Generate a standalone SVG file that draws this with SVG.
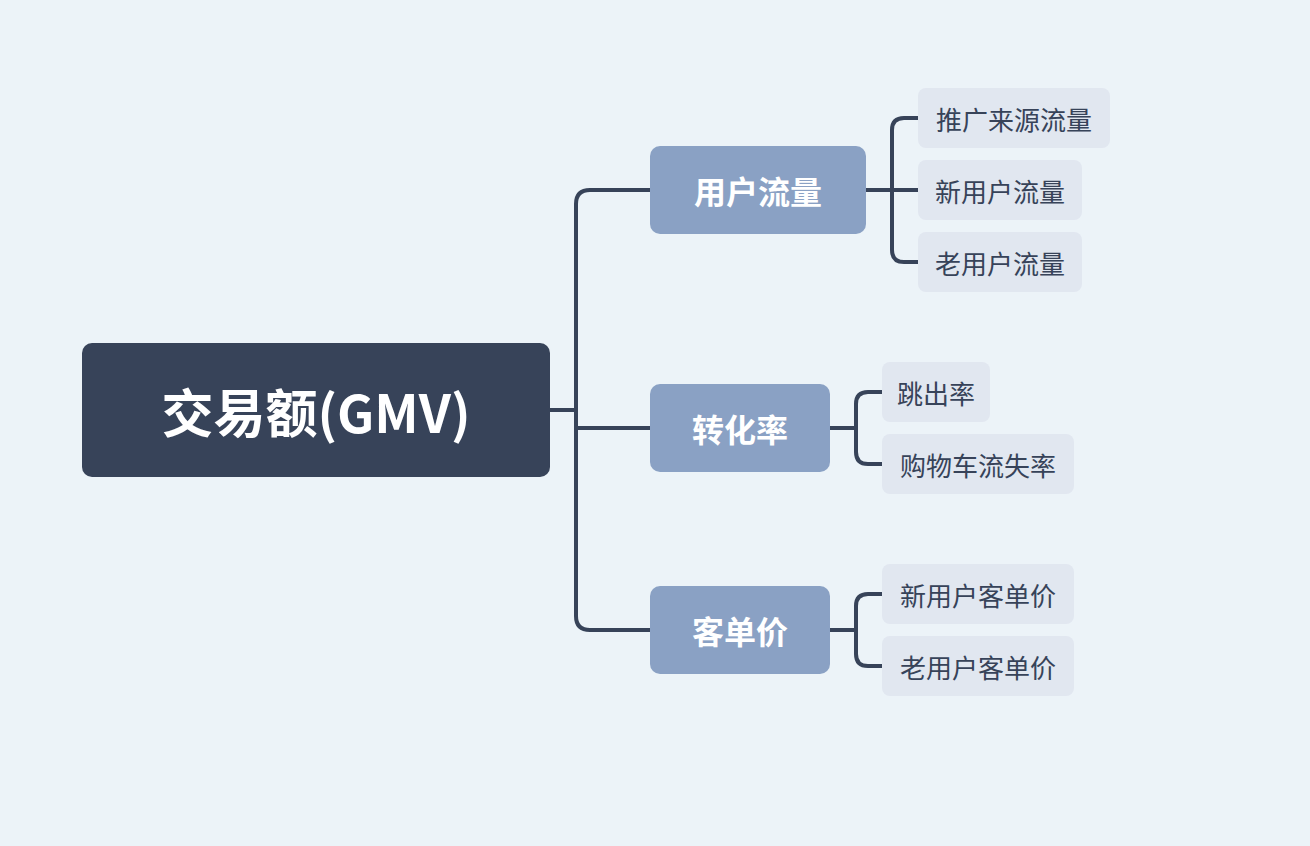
<svg xmlns="http://www.w3.org/2000/svg" width="1310" height="846" viewBox="0 0 1310 846">
<style>
text{font-family:"Noto Sans CJK SC","Open Sans",sans-serif;text-anchor:middle;dominant-baseline:central}
.r{fill:#374359}.rt{fill:#fff;font-size:52px;font-weight:bold}
.m{fill:#8aa1c4}.mt{fill:#fff;font-size:32px;font-weight:bold}
.l{fill:#e1e7f0}.lt{fill:#374359;font-size:26px}
.c{fill:none;stroke:#374359;stroke-width:4}
</style>
<rect width="1310" height="846" fill="#ecf3f8"/>
<g id="connectors">
<path class="c" d="M550 410H576M650 190H590Q576 190 576 204V616Q576 630 590 630H650M576 428H650"/>
<path class="c" d="M866 190H892M918 118H904Q892 118 892 130V250Q892 262 904 262H918M892 190H918"/>
<path class="c" d="M830 428H856M882 392H868Q856 392 856 404V452Q856 464 868 464H882"/>
<path class="c" d="M830 630H856M882 594H868Q856 594 856 606V654Q856 666 868 666H882"/>
</g>
<g id="root"><rect class="r" x="82" y="343" width="468" height="134" rx="10"/><text class="rt" x="316" y="410">交易额(GMV)</text></g>
<g id="n1"><rect class="m" x="650" y="146" width="216" height="88" rx="10"/><text class="mt" x="758" y="190">用户流量</text></g>
<g id="n2"><rect class="m" x="650" y="384" width="180" height="88" rx="10"/><text class="mt" x="740" y="428">转化率</text></g>
<g id="n3"><rect class="m" x="650" y="586" width="180" height="88" rx="10"/><text class="mt" x="740" y="630">客单价</text></g>
<g id="l1"><rect class="l" x="918" y="88" width="192" height="60" rx="8"/><text class="lt" x="1014" y="118">推广来源流量</text></g>
<g id="l2"><rect class="l" x="918" y="160" width="164" height="60" rx="8"/><text class="lt" x="1000" y="190">新用户流量</text></g>
<g id="l3"><rect class="l" x="918" y="232" width="164" height="60" rx="8"/><text class="lt" x="1000" y="262">老用户流量</text></g>
<g id="l4"><rect class="l" x="882" y="362" width="108" height="60" rx="8"/><text class="lt" x="936" y="392">跳出率</text></g>
<g id="l5"><rect class="l" x="882" y="434" width="192" height="60" rx="8"/><text class="lt" x="978" y="464">购物车流失率</text></g>
<g id="l6"><rect class="l" x="882" y="564" width="192" height="60" rx="8"/><text class="lt" x="978" y="594">新用户客单价</text></g>
<g id="l7"><rect class="l" x="882" y="636" width="192" height="60" rx="8"/><text class="lt" x="978" y="666">老用户客单价</text></g>
</svg>
